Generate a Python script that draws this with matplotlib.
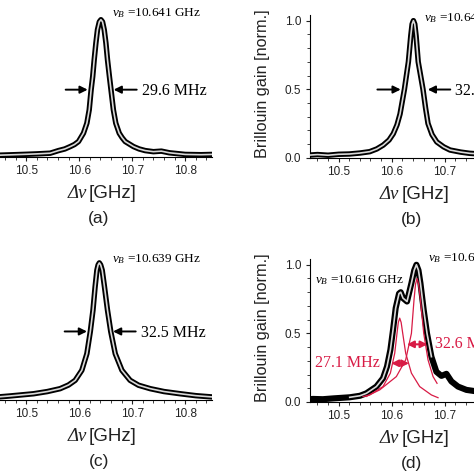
import matplotlib
matplotlib.use("Agg")
import matplotlib.pyplot as plt
from matplotlib.ticker import MultipleLocator

plt.rcParams['mathtext.fontset'] = 'custom'
plt.rcParams['mathtext.rm'] = 'Liberation Serif'
plt.rcParams['mathtext.it'] = 'Liberation Serif:italic'

# ---- data (GHz, normalized gain) ----
xa = [10.445, 10.47, 10.50, 10.52, 10.5453, 10.561, 10.573, 10.583, 10.591, 10.5987,
      10.6081, 10.6145, 10.6189, 10.6225, 10.6255, 10.6283, 10.6315, 10.6345, 10.638,
      10.641, 10.644, 10.6472, 10.6504, 10.6534, 10.657, 10.660, 10.6645, 10.6690,
      10.6755, 10.681, 10.6868, 10.7025, 10.713, 10.7245, 10.74, 10.755, 10.77, 10.80,
      10.83, 10.85]
ya = [0.012, 0.015, 0.019, 0.022, 0.027, 0.046, 0.058, 0.075, 0.09, 0.112,
      0.173, 0.246, 0.343, 0.489, 0.586, 0.708, 0.83, 0.927, 0.985,
      1.0, 0.985, 0.927, 0.83, 0.708, 0.586, 0.489, 0.343, 0.246,
      0.173, 0.14, 0.112, 0.075, 0.058, 0.046, 0.038, 0.042, 0.03, 0.018,
      0.016, 0.018]

xb = [10.445, 10.46, 10.48, 10.50, 10.52, 10.54, 10.5585, 10.572, 10.584, 10.595,
      10.603, 10.61, 10.6157, 10.624, 10.6315, 10.636, 10.6385, 10.641, 10.6435, 10.646,
      10.650, 10.659, 10.664, 10.6685, 10.676, 10.685, 10.698, 10.710, 10.73, 10.747,
      10.78, 10.80, 10.85]
yb = [0.02, 0.024, 0.019, 0.026, 0.028, 0.035, 0.045, 0.065, 0.093, 0.13,
      0.176, 0.24, 0.319, 0.5, 0.7, 0.89, 0.975, 1.0, 0.975, 0.89,
      0.7, 0.5, 0.36, 0.25, 0.17, 0.116, 0.08, 0.057, 0.042, 0.033,
      0.025, 0.022, 0.02]

xc = [10.445, 10.47, 10.514, 10.54, 10.564, 10.58, 10.5925, 10.605, 10.6145, 10.621,
      10.626, 10.630, 10.6334, 10.6357, 10.638, 10.6405, 10.6434, 10.6477, 10.6534,
      10.6595, 10.668, 10.6806, 10.696, 10.712, 10.734, 10.76, 10.7906, 10.82, 10.853]
yc = [0.022, 0.03, 0.046, 0.062, 0.083, 0.11, 0.144, 0.217, 0.338, 0.5,
      0.655, 0.825, 0.947, 0.985, 1.0, 0.985, 0.947, 0.825, 0.655,
      0.5, 0.338, 0.217, 0.144, 0.108, 0.083, 0.062, 0.046, 0.032, 0.022]

xd = [10.445, 10.4515, 10.47, 10.49, 10.5208, 10.54, 10.5523, 10.5711, 10.5836, 10.5911,
      10.5975, 10.6025, 10.6075, 10.6138, 10.617, 10.6213, 10.6289, 10.6372, 10.6425,
      10.6466, 10.6505, 10.6542, 10.6604, 10.6666, 10.6749, 10.6843, 10.6938, 10.7032,
      10.7126, 10.7251, 10.7409, 10.755, 10.78, 10.81, 10.85]
yd = [0.02, 0.022, 0.02, 0.026, 0.034, 0.045, 0.063, 0.112, 0.173, 0.258,
      0.38, 0.525, 0.684, 0.79, 0.80, 0.757, 0.732, 0.866, 0.96,
      1.0, 0.96, 0.866, 0.67, 0.50, 0.33, 0.22, 0.19, 0.205,
      0.15, 0.112, 0.088, 0.08, 0.065, 0.055, 0.05]

# lorentzian fits in (d)
xr1 = [10.5458, 10.5585, 10.5836, 10.5975, 10.6057, 10.610, 10.6125, 10.6151, 10.6178,
       10.6208, 10.6264, 10.6372, 10.6528, 10.6749, 10.6874]
yr1 = [0.039, 0.051, 0.112, 0.21, 0.355, 0.50, 0.58, 0.611, 0.58,
       0.50, 0.355, 0.21, 0.112, 0.051, 0.031]
xr2 = [10.552, 10.5774, 10.6088, 10.6264, 10.6372, 10.6421, 10.645, 10.6478, 10.6506,
       10.6542, 10.6604, 10.6685, 10.678, 10.6855]
yr2 = [0.04, 0.088, 0.185, 0.307, 0.5, 0.745, 0.86, 0.90, 0.86,
       0.745, 0.5, 0.307, 0.185, 0.136]

RED = '#d81b45'
SANS = 'Liberation Sans'
SERIF = 'Liberation Serif'

fig = plt.figure(figsize=(4.74, 4.74), dpi=100)
W, H = 0.453, 0.301
ax_a = fig.add_axes([-0.0063, 0.669, W, H])
ax_b = fig.add_axes([0.653, 0.667, W, H])
ax_c = fig.add_axes([-0.0063, 0.156, W, H])
ax_d = fig.add_axes([0.653, 0.152, W, H])


def style(ax, tag, ylab):
    ax.set_xlim(10.445, 10.85)
    ax.set_ylim(0, 1.04)
    for s in ('top', 'right'):
        ax.spines[s].set_visible(False)
    ax.xaxis.set_major_locator(MultipleLocator(0.1))
    ax.xaxis.set_minor_locator(MultipleLocator(0.02))
    ax.yaxis.set_minor_locator(MultipleLocator(0.1))
    ax.tick_params(which='major', length=3, width=0.8, labelsize=8.5, pad=3,
                   colors='#222222')
    ax.tick_params(which='minor', length=2, width=0.6, colors='#222222')
    ax.set_xticks([10.5, 10.6, 10.7, 10.8])
    ax.set_xticklabels(['10.5', '10.6', '10.7', '10.8'], family=SANS)
    ax.set_yticks([0, 0.5, 1.0])
    ax.set_yticklabels(['0.0', '0.5', '1.0'], family=SANS)
    ax.text(0.418, -0.255, 'Δν', transform=ax.transAxes, ha='right', va='center',
            family=SERIF, style='italic', fontsize=13.5, color='#222222')
    ax.text(0.428, -0.255, '[GHz]', transform=ax.transAxes, ha='left', va='center',
            family=SANS, fontsize=13.5, color='#222222')
    ax.text(0.473, -0.43, tag, transform=ax.transAxes, ha='center', va='center',
            family=SANS, fontsize=12.5, color='#222222')
    if ylab:
        ax.set_ylabel('Brillouin gain [norm.]', family=SANS, fontsize=11.7,
                      color='#222222')
        ax.yaxis.set_label_coords(-0.185, 0.52)


def curve(ax, x, y):
    ax.plot(x, y, color='black', lw=3.9, solid_capstyle='round',
            solid_joinstyle='round', zorder=2)
    ax.plot(x, y, color='#d9d9d9', lw=1.2, solid_joinstyle='round', zorder=3)


def arrows(ax, y, left, right):
    for tail, tip in (left, right):
        ax.annotate('', xy=(tip, y), xytext=(tail, y),
                    arrowprops=dict(arrowstyle='-|>', color='black', lw=1.4,
                                    mutation_scale=11, shrinkA=0, shrinkB=0))


# (a)
curve(ax_a, xa, ya)
arrows(ax_a, 0.49, (10.5745, 10.616), (10.7085, 10.665))
ax_a.text(10.661, 1.045, r'$\nu_B$ =10.641 GHz', family=SERIF, fontsize=9.5, va='center')
ax_a.text(10.719, 0.48, '29.6 MHz', family=SERIF, fontsize=11.5, va='center')
style(ax_a, '(a)', False)

# (b)
curve(ax_b, xb, yb)
arrows(ax_b, 0.498, (10.573, 10.617), (10.7105, 10.668))
ax_b.text(10.66, 1.02, r'$\nu_B$ =10.640 GHz', family=SERIF, fontsize=9.5, va='center')
ax_b.text(10.72, 0.49, '32.3 MHz', family=SERIF, fontsize=11.5, va='center')
style(ax_b, '(b)', True)

# (c)
curve(ax_c, xc, yc)
arrows(ax_c, 0.50, (10.5726, 10.6147), (10.7066, 10.6638))
ax_c.text(10.661, 1.025, r'$\nu_B$ =10.639 GHz', family=SERIF, fontsize=9.5, va='center')
ax_c.text(10.717, 0.489, '32.5 MHz', family=SERIF, fontsize=11.5, va='center')
style(ax_c, '(c)', False)

# (d)
ax_d.plot(xd, yd, color='black', lw=4.4, solid_capstyle='round',
          solid_joinstyle='round', zorder=2)
fit = [(x, y) for x, y in zip(xd, yd) if 10.52 <= x <= 10.676]
ax_d.plot([p[0] for p in fit], [p[1] for p in fit], color='#d9d9d9', lw=1.2,
          solid_joinstyle='round', zorder=3)
ax_d.plot(xr1, yr1, color=RED, lw=0.9, zorder=4)
ax_d.plot(xr2, yr2, color=RED, lw=0.9, zorder=4)
for x0, x1, yy in ((10.5994, 10.6327, 0.282), (10.6289, 10.6674, 0.42)):
    ax_d.annotate('', xy=(x0, yy), xytext=(x1, yy),
                  arrowprops=dict(arrowstyle='<|-|>', color=RED, lw=1.5,
                                  mutation_scale=10, shrinkA=0, shrinkB=0),
                  zorder=5)
ax_d.text(10.577, 0.282, '27.1 MHz', color=RED, family=SERIF, fontsize=11.5,
          ha='right', va='center')
ax_d.text(10.681, 0.42, '32.6 MHz', color=RED, family=SERIF, fontsize=11.5, va='center')
ax_d.text(10.4547, 0.89, r'$\nu_B$ =10.616 GHz', family=SERIF, fontsize=9.5, va='center')
ax_d.text(10.6685, 1.05, r'$\nu_B$ =10.648 GHz', family=SERIF, fontsize=9.5, va='center')
style(ax_d, '(d)', True)

fig.savefig('out.png', dpi=100)
